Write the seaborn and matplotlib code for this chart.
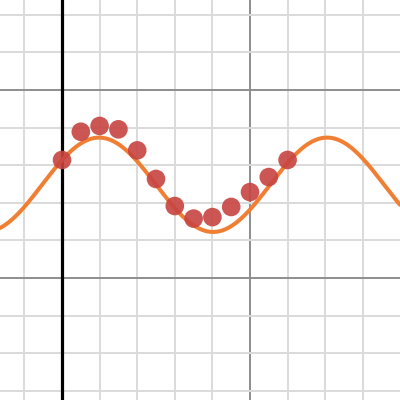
import numpy as np
import pandas as pd
import matplotlib
matplotlib.use('Agg')
import matplotlib.pyplot as plt
import seaborn as sns

# data points (month index, value)
months = [0, 1, 2, 3, 4, 5, 6, 7, 8, 9, 10, 11, 12]
values = [16.28, 17.78, 18.09, 17.91, 16.79, 15.27, 13.83, 13.16, 13.24, 13.78, 14.57, 15.37, 16.28]

# fitted sine model
amplitude = 2.51
midline = 14.96
period = 12.13
peak_x = 1.97

x_min, x_max = -3.3, 17.98
y_min, y_max = 3.51, 24.79

sns.set_style('white')
fig = plt.figure(figsize=(4, 4), dpi=100)
ax = fig.add_axes([0, 0, 1, 1])

# grid
ax.set_xticks(np.arange(-10, 30, 10))
ax.set_xticks(np.arange(-10, 30, 2), minor=True)
ax.set_yticks(np.arange(0, 40, 10))
ax.set_yticks(np.arange(0, 40, 2), minor=True)
ax.grid(which='minor', color='#dadada', linewidth=1.4)
ax.grid(which='major', color='#8e8e8e', linewidth=1.4)
ax.tick_params(which='both', length=0, labelbottom=False, labelleft=False)
ax.set_axisbelow(True)
for s in ax.spines.values():
    s.set_visible(False)
ax.axvline(0, color='black', linewidth=2.3, zorder=1)

curve_x = np.linspace(x_min, x_max, 400)
curve = pd.DataFrame({'x': curve_x,
                      'y': midline + amplitude * np.cos(2 * np.pi * (curve_x - peak_x) / period)})
sns.lineplot(data=curve, x='x', y='y', color='#f07f34', linewidth=2.9, ax=ax, zorder=2)

pts = pd.DataFrame({'month': months, 'value': values})
sns.scatterplot(data=pts, x='month', y='value', color='#c74440', alpha=0.9,
                s=180, edgecolor='none', ax=ax, zorder=3)

ax.set_xlim(x_min, x_max)
ax.set_ylim(y_min, y_max)
ax.set_xlabel('')
ax.set_ylabel('')

fig.savefig('out.png', dpi=100)
